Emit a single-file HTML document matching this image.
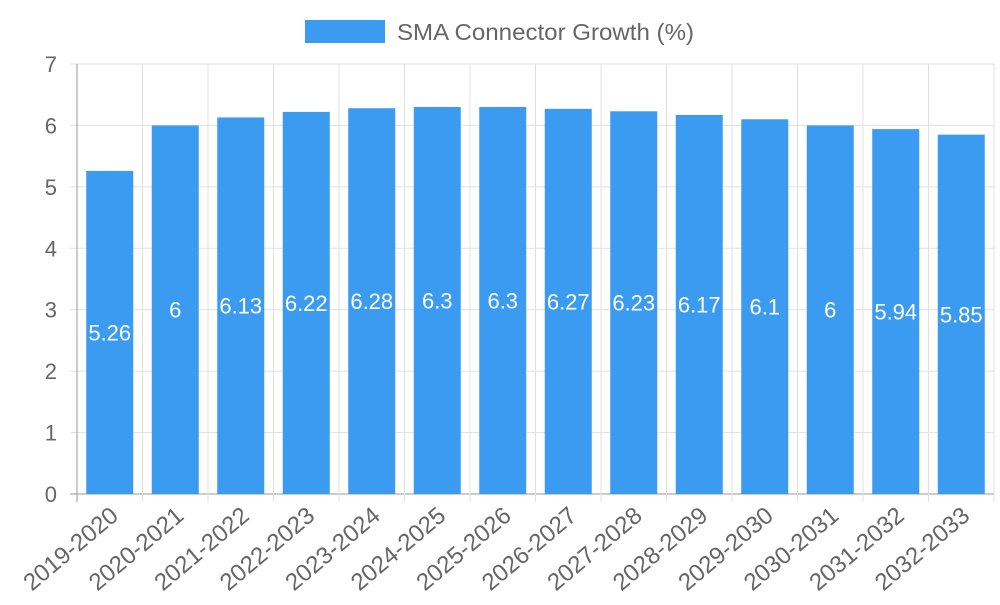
<!DOCTYPE html>
<html><head><meta charset="utf-8"><style>
html,body{margin:0;padding:0;background:#fff;}
svg text{font-family:"Liberation Sans",sans-serif;}
</style></head><body>
<svg id="chart" width="1000" height="600" viewBox="0 0 1000 600" xmlns="http://www.w3.org/2000/svg">
<g id="legend">
<rect x="305" y="20" width="80" height="23" fill="#3a9bf0"/>
<text x="397" y="40" font-size="23" fill="#666" textLength="297" lengthAdjust="spacingAndGlyphs">SMA Connector Growth (%)</text>
</g>
<g id="grid"></g><g id="bars"></g><g id="axes"></g>
</svg>
<script>
const categories=["2019-2020","2020-2021","2021-2022","2022-2023","2023-2024","2024-2025","2025-2026","2026-2027","2027-2028","2028-2029","2029-2030","2030-2031","2031-2032","2032-2033"];
const values=[5.26,6,6.13,6.22,6.28,6.3,6.3,6.27,6.23,6.17,6.1,6,5.94,5.85];
const yTicks=[0,1,2,3,4,5,6,7];
const NS="http://www.w3.org/2000/svg";
const L=77,R=994,T=64,B=494,yMax=7;
const band=(R-L)/categories.length;
const y=v=>B-(v/yMax)*(B-T);
const x=i=>L+i*band;
function mk(tag,attrs,parent,text){const e=document.createElementNS(NS,tag);for(const k in attrs)e.setAttribute(k,attrs[k]);if(text!==undefined)e.textContent=text;parent.appendChild(e);return e;}
const grid=document.getElementById('grid'),bars=document.getElementById('bars'),axes=document.getElementById('axes');
yTicks.forEach(t=>{
 const g=mk('line',{x1:70,x2:R,y1:y(t),y2:y(t),stroke:t===0?'#999':'#e0e0e0','stroke-width':1},grid);
 
 
 const lb=mk('text',{x:57,y:y(t)+8,'font-size':22,fill:'#666','text-anchor':'end'},axes,String(t));
 
 
});
for(let i=0;i<=categories.length;i++){
 const g=mk('line',{x1:x(i),x2:x(i),y1:T,y2:B+8,stroke:i===0?'#999':'#e0e0e0','stroke-width':1},grid);
 
 
}
const bw=47;
categories.forEach((c,i)=>{
 const cx=x(i)+band/2;
 const r=mk('rect',{x:cx-bw/2,y:y(values[i]),width:bw,height:B-y(values[i]),fill:'#3a9bf0'},bars);
 
 
 const v=mk('text',{x:cx,y:(y(values[i])+B)/2+8,'font-size':22,fill:'#fff','text-anchor':'middle'},bars,String(values[i]));
 
 
 const lb=mk('text',{x:cx+10,y:B+24,'font-size':24,fill:'#666','text-anchor':'end',transform:`rotate(-40 ${cx+10} ${B+24})`},axes,c);
 
 
});
</script>
</body></html>
